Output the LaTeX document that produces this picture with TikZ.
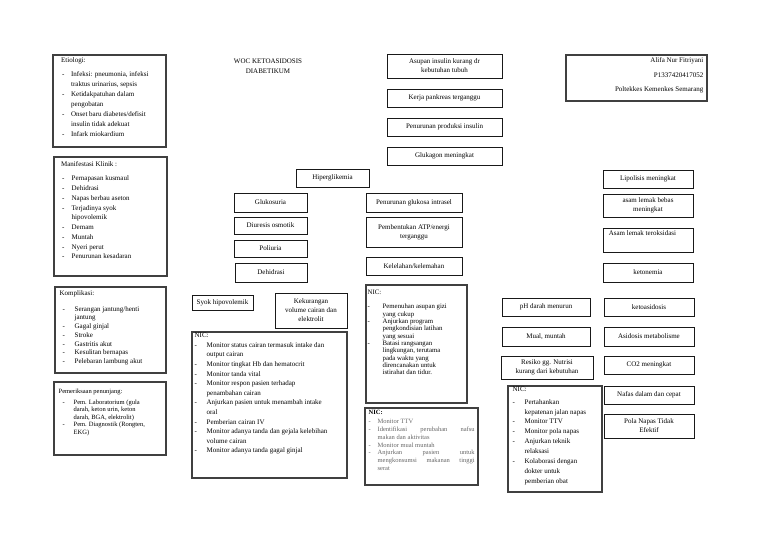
\documentclass[tikz,border=0pt]{standalone}
\usepackage{fontspec}
\setmainfont{Liberation Serif}
\newlength{\dashlead}
\newlength{\dashgap}
\newcommand{\itm}{\hspace*{\dashlead}\makebox[\dashgap][l]{-}}
\newcommand{\cnt}{\hspace*{\dashlead}\hspace*{\dashgap}}
\begin{document}
\begin{tikzpicture}[x=1pt, y=-1pt,
	causebox/.style={draw=black!90, line width=0.9pt, inner sep=1pt, align=center, font=\fontsize{7}{9}\selectfont},
	listframe/.style={draw=black!75, line width=1.1pt, inner sep=0pt},
	listtext/.style n args={4}{anchor=north west, inner sep=0pt, align=left,
		font={\fontsize{#1}{#2}\selectfont\setlength{\dashlead}{#3}\setlength{\dashgap}{#4}}}]
	\useasboundingbox (0,0) rectangle (768,543);
	
	% Etiologi
	\node[listframe, minimum width=113pt, minimum height=92pt] (Etiologi) at (109.5,101) {};
	\node[listtext={7}{10}{1pt}{9pt}] (EtiologiText) at ([shift={(8.5,3)}]Etiologi.north west) {Etiologi:\\[4pt]
		\itm Infeksi: pneumonia, infeksi\\
		\cnt traktus urinarius, sepsis\\
		\itm Ketidakpatuhan dalam\\
		\cnt pengobatan\\
		\itm Onset baru diabetes/defisit\\
		\cnt insulin tidak adekuat\\
		\itm Infark miokardium};
	
	% Manifestasi klinik
	\node[listframe, minimum width=113pt, minimum height=119pt] (Manifestasi) at (110.5,216.5) {};
	\node[listtext={7}{9.75}{1pt}{9.5pt}] (ManifestasiText) at ([shift={(7.5,4.5)}]Manifestasi.north west) {Manifestasi Klinik :\\[5pt]
		\itm Pernapasan kusmaul\\
		\itm Dehidrasi\\
		\itm Napas berbau aseton\\
		\itm Terjadinya syok\\
		\cnt hipovolemik\\
		\itm Demam\\
		\itm Muntah\\
		\itm Nyeri perut\\
		\itm Penurunan kesadaran};
	
	% Komplikasi
	\node[listframe, minimum width=111pt, minimum height=86pt] (Komplikasi) at (110.5,330) {};
	\node[listtext={7}{8.7}{3pt}{12pt}] (KomplikasiText) at ([shift={(5,4)}]Komplikasi.north west) {Komplikasi:\\[7pt]
		\itm Serangan jantung/henti\\
		\cnt jantung\\
		\itm Gagal ginjal\\
		\itm Stroke\\
		\itm Gastritis akut\\
		\itm Kesulitan bernapas\\
		\itm Pelebaran lambung akut};
	
	% Pemeriksaan penunjang
	\node[listframe, minimum width=112pt, minimum height=73pt] (Pemeriksaan) at (110,418.5) {};
	\node[listtext={6.5}{7.5}{4pt}{11pt}] (PemeriksaanText) at ([shift={(5,7)}]Pemeriksaan.north west) {Pemeriksaan penunjang:\\[3.5pt]
		\itm Pem. Laboratorium (gula\\
		\cnt darah, keton urin, keton\\
		\cnt darah, BGA, elektrolit)\\
		\itm Pem. Diagnostik (Rongten,\\
		\cnt EKG)};
	
	% Judul
	\node[align=center, font=\fontsize{7}{10}\selectfont] (Judul) at (268,66) {WOC KETOASIDOSIS\\DIABETIKUM};
	
	% Penyebab
	\node[causebox, minimum width=115pt, minimum height=24pt] (Asupan) at (444.5,66) {Asupan insulin kurang dr\\kebutuhan tubuh};
	\node[causebox, minimum width=115pt, minimum height=18pt] (Pankreas) at (444.5,98) {Kerja pankreas terganggu};
	\node[causebox, minimum width=115pt, minimum height=18pt] (Produksi) at (444.5,127) {Penurunan produksi insulin};
	\node[causebox, minimum width=115pt, minimum height=18pt] (Glukagon) at (444.5,156) {Glukagon meningkat};
	\node[causebox, minimum width=73pt, minimum height=18pt] (Hiperglikemia) at (332.5,178) {Hiperglikemia};
	
	% Identitas
	\node[listframe, minimum width=141pt, minimum height=46pt] (Identitas) at (636.5,78) {};
	\node[anchor=north east, inner sep=0pt, align=right, font=\fontsize{7}{14.5}\selectfont] (IdentitasText) at ([shift={(-4,3)}]Identitas.north east) {Alifa Nur Fitriyani\\P1337420417052\\Poltekkes Kemenkes Semarang};
	
	% Cabang kiri
	\node[causebox, minimum width=73pt, minimum height=19pt] (Glukosuria) at (270.5,202.5) {Glukosuria};
	\node[causebox, minimum width=73pt, minimum height=17pt] (Diuresis) at (270.5,225.5) {Diuresis osmotik};
	\node[causebox, minimum width=73pt, minimum height=17pt] (Poliuria) at (270.5,248.5) {Poliuria};
	\node[causebox, minimum width=72pt, minimum height=19pt] (Dehidrasi) at (271,272.5) {Dehidrasi};
	\node[causebox, minimum width=61pt, minimum height=15pt] (Syok) at (222.5,302.5) {Syok hipovolemik};
	\node[causebox, minimum width=72pt, minimum height=35pt] (Kekurangan) at (311,310.5) {Kekurangan\\volume cairan dan\\elektrolit};
	
	\node[listframe, minimum width=155pt, minimum height=146pt] (NicCairan) at (269.5,405) {};
	\node[listtext={7}{9.6}{0pt}{12pt}] (NicCairanText) at ([shift={(3,1.5)}]NicCairan.north west) {NIC:\\
		\itm Monitor status cairan termasuk intake dan\\
		\cnt output cairan\\
		\itm Monitor tingkat Hb dan hematocrit\\
		\itm Monitor tanda vital\\
		\itm Monitor respon pasien terhadap\\
		\cnt penambahan cairan\\
		\itm Anjurkan pasien untuk menambah intake\\
		\cnt oral\\
		\itm Pemberian cairan IV\\
		\itm Monitor adanya tanda dan gejala kelebihan\\
		\cnt volume cairan\\
		\itm Monitor adanya tanda gagal ginjal};
	
	% Cabang tengah
	\node[causebox, minimum width=96pt, minimum height=19pt] (GlukosaIntrasel) at (414,202.5) {Penurunan glukosa intrasel};
	\node[causebox, minimum width=96pt, minimum height=30pt] (ATP) at (414,232) {Pembentukan ATP/energi\\terganggu};
	\node[causebox, minimum width=96pt, minimum height=18pt] (Kelelahan) at (414,266) {Kelelahan/kelemahan};
	
	\node[listframe, minimum width=101pt, minimum height=118pt] (NicEnergi) at (416.5,344) {};
	\node[listtext={6.8}{7.3}{0pt}{15pt}] (NicEnergiText) at ([shift={(2,5)}]NicEnergi.north west) {NIC:\\[7.5pt]
		\itm Pemenuhan asupan gizi\\
		\cnt yang cukup\\
		\itm Anjurkan program\\
		\cnt pengkondisian latihan\\
		\cnt yang sesuai\\
		\itm Batasi rangsangan\\
		\cnt lingkungan, terutama\\
		\cnt pada waktu yang\\
		\cnt direncanakan untuk\\
		\cnt istirahat dan tidur.};
	
	\node[listframe, minimum width=113pt, minimum height=77pt] (NicNutrisi) at (421.5,446.5) {};
	\node[listtext={6.5}{7.8}{0pt}{9pt}, text=black!60] (NicNutrisiText) at ([shift={(4,3)}]NicNutrisi.north west) {\textcolor{black}{\textbf{NIC:}}\\[1pt]
		\itm Monitor TTV\\
		\itm \makebox[97pt][s]{Identifikasi perubahan nafsu}\\
		\cnt makan dan aktivitas\\
		\itm Monitor mual muntah\\
		\itm \makebox[97pt][s]{Anjurkan pasien untuk}\\
		\cnt \makebox[97pt][s]{mengkonsumsi makanan tinggi}\\
		\cnt serat};
	
	% Cabang kanan
	\node[causebox, minimum width=90pt, minimum height=18pt] (Lipolisis) at (648,179) {Lipolisis meningkat};
	\node[causebox, minimum width=90pt, minimum height=23pt] (AsamLemakBebas) at (648,205.5) {asam lemak bebas\\meningkat};
	\node[causebox, minimum width=90pt, minimum height=24pt] (AsamLemakOksidasi) at (648,240) {};
	\node[anchor=north west, inner sep=0pt, font=\fontsize{7}{9}\selectfont] (AsamLemakOksidasiText) at ([shift={(6,3)}]AsamLemakOksidasi.north west) {Asam lemak teroksidasi};
	\node[causebox, minimum width=90pt, minimum height=19pt] (Ketonemia) at (648,272.5) {ketonemia};
	
	\node[causebox, minimum width=88pt, minimum height=18pt] (PhDarah) at (546,307) {pH darah menurun};
	\node[causebox, minimum width=90pt, minimum height=18pt] (Ketoasidosis) at (649,307) {ketoasidosis};
	\node[causebox, minimum width=88pt, minimum height=19pt] (Mual) at (546,336.5) {Mual, muntah};
	\node[causebox, minimum width=90pt, minimum height=19pt] (Asidosis) at (649,336.5) {Asidosis metabolisme};
	\node[causebox, minimum width=92pt, minimum height=23pt] (Nutrisi) at (547,367.5) {Resiko gg. Nutrisi\\kurang dari kebutuhan};
	\node[causebox, minimum width=90pt, minimum height=18pt] (CO2) at (649,365) {CO2 meningkat};
	\node[causebox, minimum width=90pt, minimum height=18pt] (Nafas) at (649,395) {Nafas dalam dan cepat};
	\node[causebox, minimum width=90pt, minimum height=24pt] (PolaNapas) at (649,426) {Pola Napas Tidak\\Efektif};
	
	\node[listframe, minimum width=94pt, minimum height=106pt] (NicNapas) at (555,439) {};
	\node[listtext={7}{9.9}{0pt}{12pt}] (NicNapasText) at ([shift={(5,1)}]NicNapas.north west) {NIC:\\[3pt]
		\itm Pertahankan\\
		\cnt kepatenan jalan napas\\
		\itm Monitor TTV\\
		\itm Monitor pola napas\\
		\itm Anjurkan teknik\\
		\cnt relaksasi\\
		\itm Kolaborasi dengan\\
		\cnt dokter untuk\\
		\cnt pemberian obat};
	
\end{tikzpicture}
\end{document}
